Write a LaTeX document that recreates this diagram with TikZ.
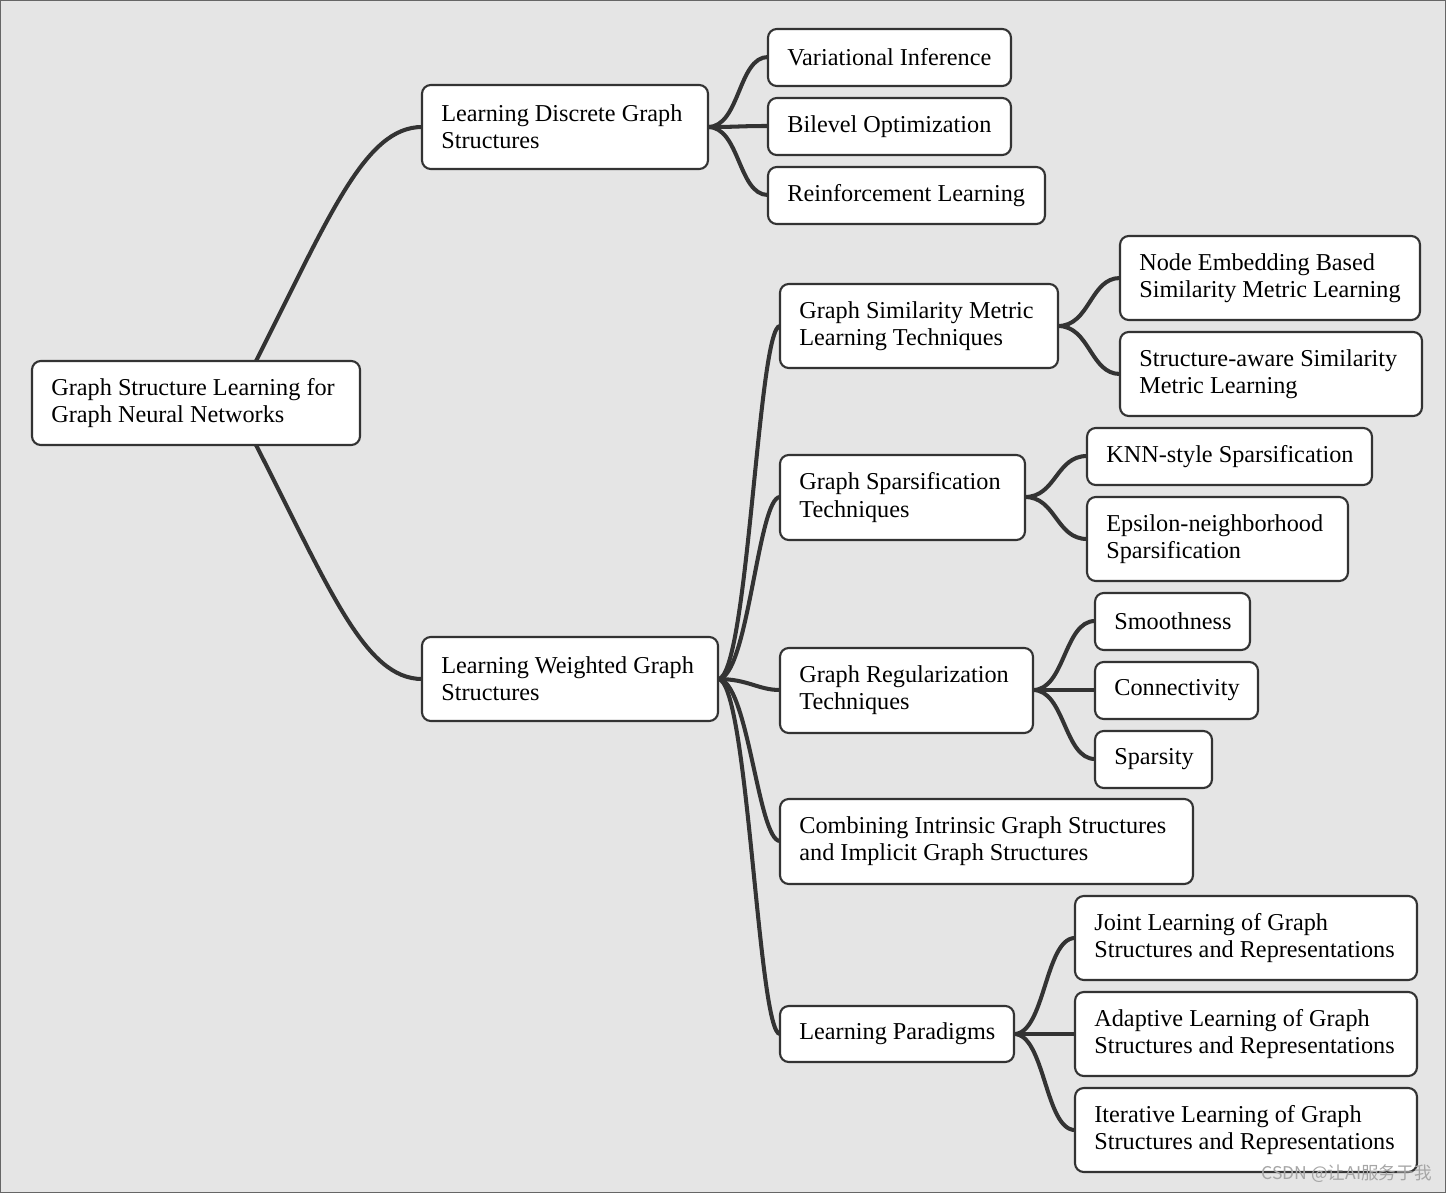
\documentclass[tikz,border=0pt]{standalone}
\usepackage{fontspec}
\setmainfont{Liberation Serif}
\newfontfamily\cjk{Noto Sans CJK SC}
\usetikzlibrary{fit}
\tikzset{
  bx/.style={draw=black!80, line width=1.2pt, fill=white, rounded corners=5pt, inner sep=0pt},
  lbl/.style={anchor=west, align=left, inner sep=0pt, font=\fontsize{13.8}{15.5}\selectfont},
  con/.style={draw=black!80, line width=2.3pt},
}
\newcommand{\bx}[6]{%
  \node[bx, fit={(#2,#3)(#4,#5)}] (#1) {};
  \node[lbl] (#1t) at ({#2+19},{(#3+#5)/2}) {#6};}
\begin{document}
\begin{tikzpicture}[x=0.02cm,y=-0.02cm]
\useasboundingbox (0,0) rectangle (1446,1193);
\fill[black!10] (0,0) rectangle (1446,1193);
\draw[black!60, line width=0.8pt] (0.5,0.5) rectangle (1445.5,1192.5);
% connectors first
\coordinate (rt) at (256,361);
\coordinate (rb) at (256,445);
\draw[con] (rt) .. controls (330,215) and (365,127) .. (422,127);
\draw[con] (rb) .. controls (330,590) and (365,679) .. (422,679);
\foreach \y in {57,126,195} \draw[con] (708,127) .. controls (740,127) and (738,\y) .. (768,\y);
\foreach \y in {326,497,690,841,1034} \draw[con] (718,679) .. controls (748,679) and (758,\y) .. (780,\y);
\foreach \y in {278,374} \draw[con] (1058,326) .. controls (1090,326) and (1090,\y) .. (1120,\y);
\foreach \y in {456,539} \draw[con] (1025,497) .. controls (1056,497) and (1056,\y) .. (1087,\y);
\foreach \y in {621,690,759} \draw[con] (1033,690) .. controls (1065,690) and (1064,\y) .. (1095,\y);
\foreach \y in {938,1034,1130} \draw[con] (1014,1034) .. controls (1045,1034) and (1045,\y) .. (1075,\y);
% boxes
\bx{root}{32}{361}{360}{445}{Graph Structure Learning for\\Graph Neural Networks}
\bx{A}{422}{85}{708}{169}{Learning Discrete Graph\\Structures}
\bx{Aa}{768}{29}{1011}{86}{Variational Inference}
\bx{Ab}{768}{98}{1011}{155}{Bilevel Optimization}
\bx{Ac}{768}{167}{1045}{224}{Reinforcement Learning}
\bx{B}{422}{637}{718}{721}{Learning Weighted Graph\\Structures}
\bx{Ba}{780}{284}{1058}{368}{Graph Similarity Metric\\Learning Techniques}
\bx{Baa}{1120}{236}{1420}{320}{Node Embedding Based\\Similarity Metric Learning}
\bx{Bab}{1120}{332}{1422}{416}{Structure-aware Similarity\\Metric Learning}
\bx{Bb}{780}{455}{1025}{540}{Graph Sparsification\\Techniques}
\bx{Bba}{1087}{428}{1372}{485}{KNN-style Sparsification}
\bx{Bbb}{1087}{497}{1348}{581}{Epsilon-neighborhood\\Sparsification}
\bx{Bc}{780}{648}{1033}{733}{Graph Regularization\\Techniques}
\bx{Bca}{1095}{593}{1250}{650}{Smoothness}
\bx{Bcb}{1095}{662}{1258}{719}{Connectivity}
\bx{Bcc}{1095}{731}{1212}{788}{Sparsity}
\bx{Bd}{780}{799}{1193}{884}{Combining Intrinsic Graph Structures\\and Implicit Graph Structures}
\bx{Be}{780}{1006}{1014}{1062}{Learning Paradigms}
\bx{Bea}{1075}{896}{1417}{980}{Joint Learning of Graph\\Structures and Representations}
\bx{Beb}{1075}{992}{1417}{1076}{Adaptive Learning of Graph\\Structures and Representations}
\bx{Bec}{1075}{1088}{1417}{1172}{Iterative Learning of Graph\\Structures and Representations}
\node[anchor=east, inner sep=0pt, text=black!35, font=\cjk\fontsize{10}{12}\selectfont] (wm) at (1432,1174) {CSDN @让AI服务于我};
\end{tikzpicture}
\end{document}
